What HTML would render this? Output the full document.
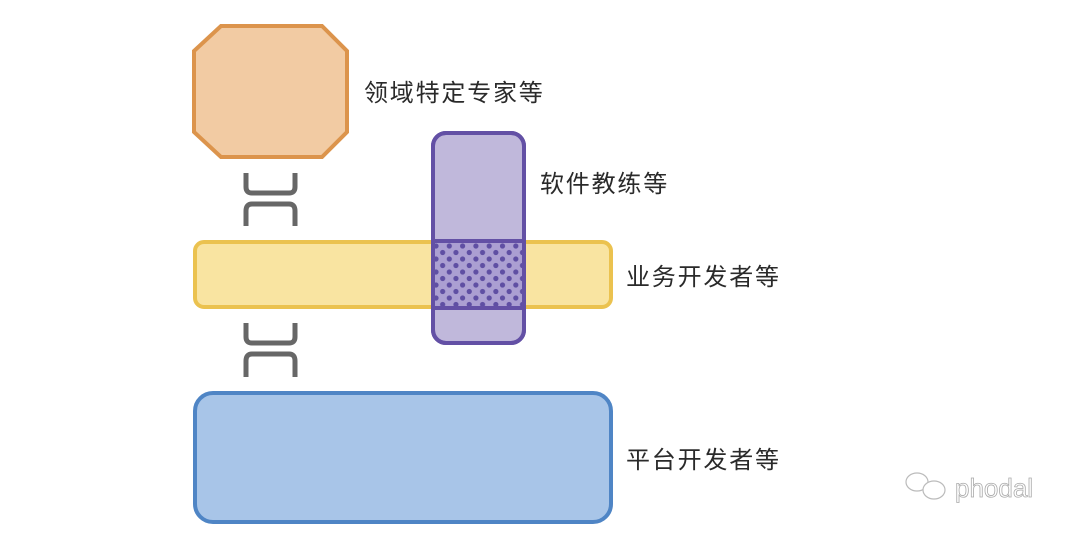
<!DOCTYPE html>
<html><head><meta charset="utf-8"><style>
html,body{margin:0;padding:0;background:#fff;}
svg{display:block;}
text{font-family:"Liberation Sans","Noto Sans CJK SC",sans-serif;font-size:24px;fill:#2a2a2a;letter-spacing:1.8px;}
</style></head><body>
<svg width="1080" height="539" viewBox="0 0 1080 539" xmlns="http://www.w3.org/2000/svg">
<defs>
<pattern id="dots" x="433" y="243" width="13.3" height="13" patternUnits="userSpaceOnUse">
<rect width="13.3" height="13" fill="#ab9fd2"/>
<circle cx="3" cy="3" r="2.6" fill="#5f4fa3"/>
<circle cx="9.65" cy="9.5" r="2.6" fill="#5f4fa3"/>
</pattern>
</defs>
<polygon points="221,26 322,26 347,51 347,132 322,157 221,157 194,132 194,51" fill="#f2cba3" stroke="#dc944c" stroke-width="4" stroke-linejoin="miter"/>
<text x="364" y="101">领域特定专家等</text>

<g fill="none" stroke="#676767" stroke-width="5">
<path d="M246,173 V187 Q246,193 252,193 H289 Q295,193 295,187 V173"/>
<path d="M246,226 V211 Q246,204 252,204 H289 Q295,204 295,211 V226"/>
<path d="M246,323 V337 Q246,343 252,343 H289 Q295,343 295,337 V323"/>
<path d="M246,377 V361 Q246,354 252,354 H289 Q295,354 295,361 V377"/>
</g>

<rect x="195" y="242" width="416" height="65" rx="9" fill="#f9e4a1" stroke="#ebc24f" stroke-width="4"/>
<rect x="433" y="133" width="91" height="210" rx="13" fill="#c0b8db" stroke="#6350a5" stroke-width="4"/>
<rect x="433" y="241" width="91" height="67" fill="url(#dots)"/>
<line x1="433" y1="241" x2="524" y2="241" stroke="#6350a5" stroke-width="4"/>
<line x1="433" y1="308" x2="524" y2="308" stroke="#6350a5" stroke-width="4"/>
<rect x="433" y="133" width="91" height="210" rx="13" fill="none" stroke="#6350a5" stroke-width="4"/>
<text x="540" y="192">软件教练等</text>
<text x="626" y="285">业务开发者等</text>

<rect x="195" y="393" width="416" height="129" rx="18" fill="#a8c5e8" stroke="#4f85c5" stroke-width="4"/>
<text x="626" y="468">平台开发者等</text>

<g fill="#fff" stroke="#bbb" stroke-width="1.2">
<ellipse cx="917" cy="482" rx="11" ry="9"/>
<ellipse cx="934" cy="490" rx="11" ry="9"/>
</g>
<text x="955" y="497" style="font-size:26px;fill:#fff;stroke:#aaa;stroke-width:0.8;letter-spacing:0">phodal</text>
</svg>
</body></html>
